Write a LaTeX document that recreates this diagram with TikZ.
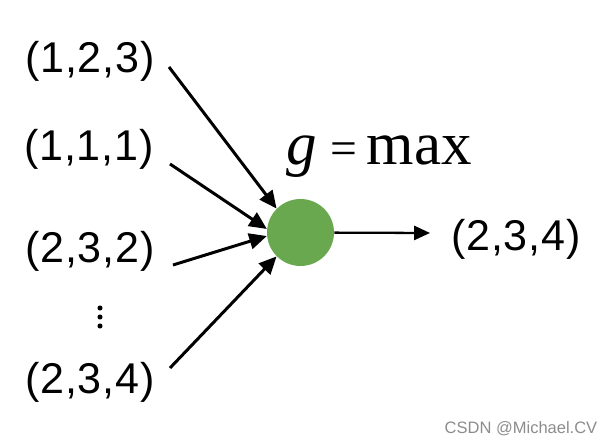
\documentclass[tikz,border=0pt]{standalone}
\usepackage{fontspec}
\setmainfont{Liberation Sans}
\newfontfamily\serif{Liberation Serif}
\usetikzlibrary{arrows.meta}
\definecolor{gategreen}{HTML}{6AA84F}

\begin{document}
\begin{tikzpicture}[x=0.02cm,y=-0.02cm,
    every node/.style={inner sep=0pt},
    tuple/.style={font=\fontsize{24.5}{28}\selectfont\addfontfeature{LetterSpace=2}},
    inarrow/.style={line width=1.7pt,-{Triangle[length=10pt,width=9pt]}},
    outarrow/.style={line width=1.3pt,-{Triangle[length=9pt,width=8pt]}}]
            \useasboundingbox (0,0) rectangle (613,445);
            \node[tuple] (in1) at (90,61) {(1,2,3)};
            \node[tuple] (in2) at (89,149) {(1,1,1)};
            \node[tuple] (in3) at (90,251) {(2,3,2)};
            \node[tuple] (in4) at (90,382) {(2,3,4)};
            \foreach \y in {308,317,326} \fill (100,\y) circle (1.45pt);
            %
            \node[circle, fill=gategreen, minimum size=1.34cm] (gate) at (300.5,232.5) {};
            \node[anchor=base west, font=\serif\fontsize{34.7}{40}\selectfont] (lab) at (286,165)
                {\textit{g}\kern0.22em\raisebox{0.01em}{\scalebox{0.78}{=}}\kern0.16em\relax max};
            %
            \coordinate (s1) at (169,67);
            \coordinate (s2) at (170,164);
            \coordinate (s3) at (173,265);
            \coordinate (s4) at (170,368);
            \draw[inarrow] (s1) -- (gate.135);
            \draw[inarrow] (s2) -- (gate.174);
            \draw[inarrow] (s3) -- (gate.186);
            \draw[inarrow] (s4) -- (gate.225);
            %
            \node[tuple] (out) at (516,239) {(2,3,4)};
            \coordinate (o) at (430,233);
            \draw[outarrow] (gate) -- (o);
            \node[font=\fontsize{9.4}{11}\selectfont, text=black!45] (mark) at (521,429) {CSDN @Michael.CV};
        \end{tikzpicture}
\end{document}
